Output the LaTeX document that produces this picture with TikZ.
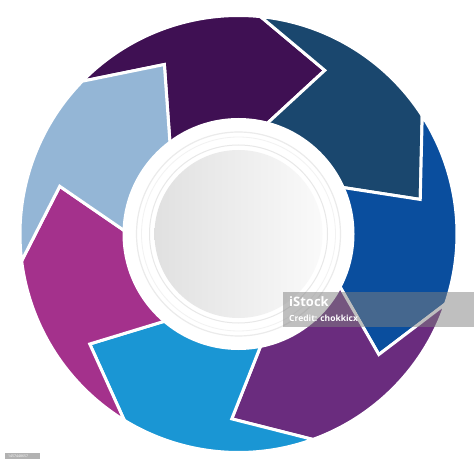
\documentclass[tikz,border=0pt]{standalone}
\usepackage{fontspec}
\setsansfont{Open Sans}
\definecolor{cA}{HTML}{3F1053}
\definecolor{cB}{HTML}{1A476E}
\definecolor{cC}{HTML}{0A4E9E}
\definecolor{cD}{HTML}{6A2C7E}
\definecolor{cE}{HTML}{1A96D4}
\definecolor{cF}{HTML}{A4318C}
\definecolor{cG}{HTML}{94B6D6}
\tikzset{
  seg/.style={fill=#1, draw=white, line width=3pt, line join=miter},
  wmtext/.style={anchor=west, text=white, inner sep=0pt}
}
\begin{document}
\begin{tikzpicture}[x=1pt,y=1pt]
\useasboundingbox (0,0) rectangle (474,464);
\fill[white] (0,0) rectangle (474,464);
\begin{scope}[shift={(238.5,230)}]
  \foreach \k/\c in {0/cA,1/cB,2/cC,3/cD,4/cE,5/cF,6/cG} {
    \pgfmathsetmacro\t{62.2-51.4286*\k}
    \filldraw[seg=\c]
      ({\t+22}:218.5) -- (\t:185) -- ({\t+14}:112)
      arc[start angle={\t+14}, end angle={\t+65.4286}, radius=112]
      -- ({\t+51.4286}:185) -- ({\t+73.4286}:218.5)
      arc[start angle={\t+73.4286}, end angle={\t+22}, radius=218.5]
      -- cycle;
  }
  \fill[white] (0,0) circle[radius=116];
  \draw[black!8, line width=1.2pt] (0,0) circle[radius=102];
  \draw[black!5, line width=0.8pt] (0,0) circle[radius=97];
  \draw[black!9, line width=1pt] (0,0) circle[radius=89];
  \shade[left color=black!12, right color=black!2] (0,0) circle[radius=84];
\end{scope}
% watermark
\fill[black!50, opacity=0.5] (283,137) rectangle (474,172);
\node[wmtext, font=\sffamily\bfseries\fontsize{13}{13}\selectfont] (wm1) at (289,162) {iStock};
\node[wmtext, font=\sffamily\bfseries\fontsize{8.5}{9}\selectfont] (wm2) at (289,146) {Credit: chokkicx};
\fill[black!30] (5,5) rectangle (40,11);
\node[wmtext, font=\sffamily\fontsize{3.5}{4}\selectfont] (wm3) at (8,8) {1457448657};
\end{tikzpicture}
\end{document}
